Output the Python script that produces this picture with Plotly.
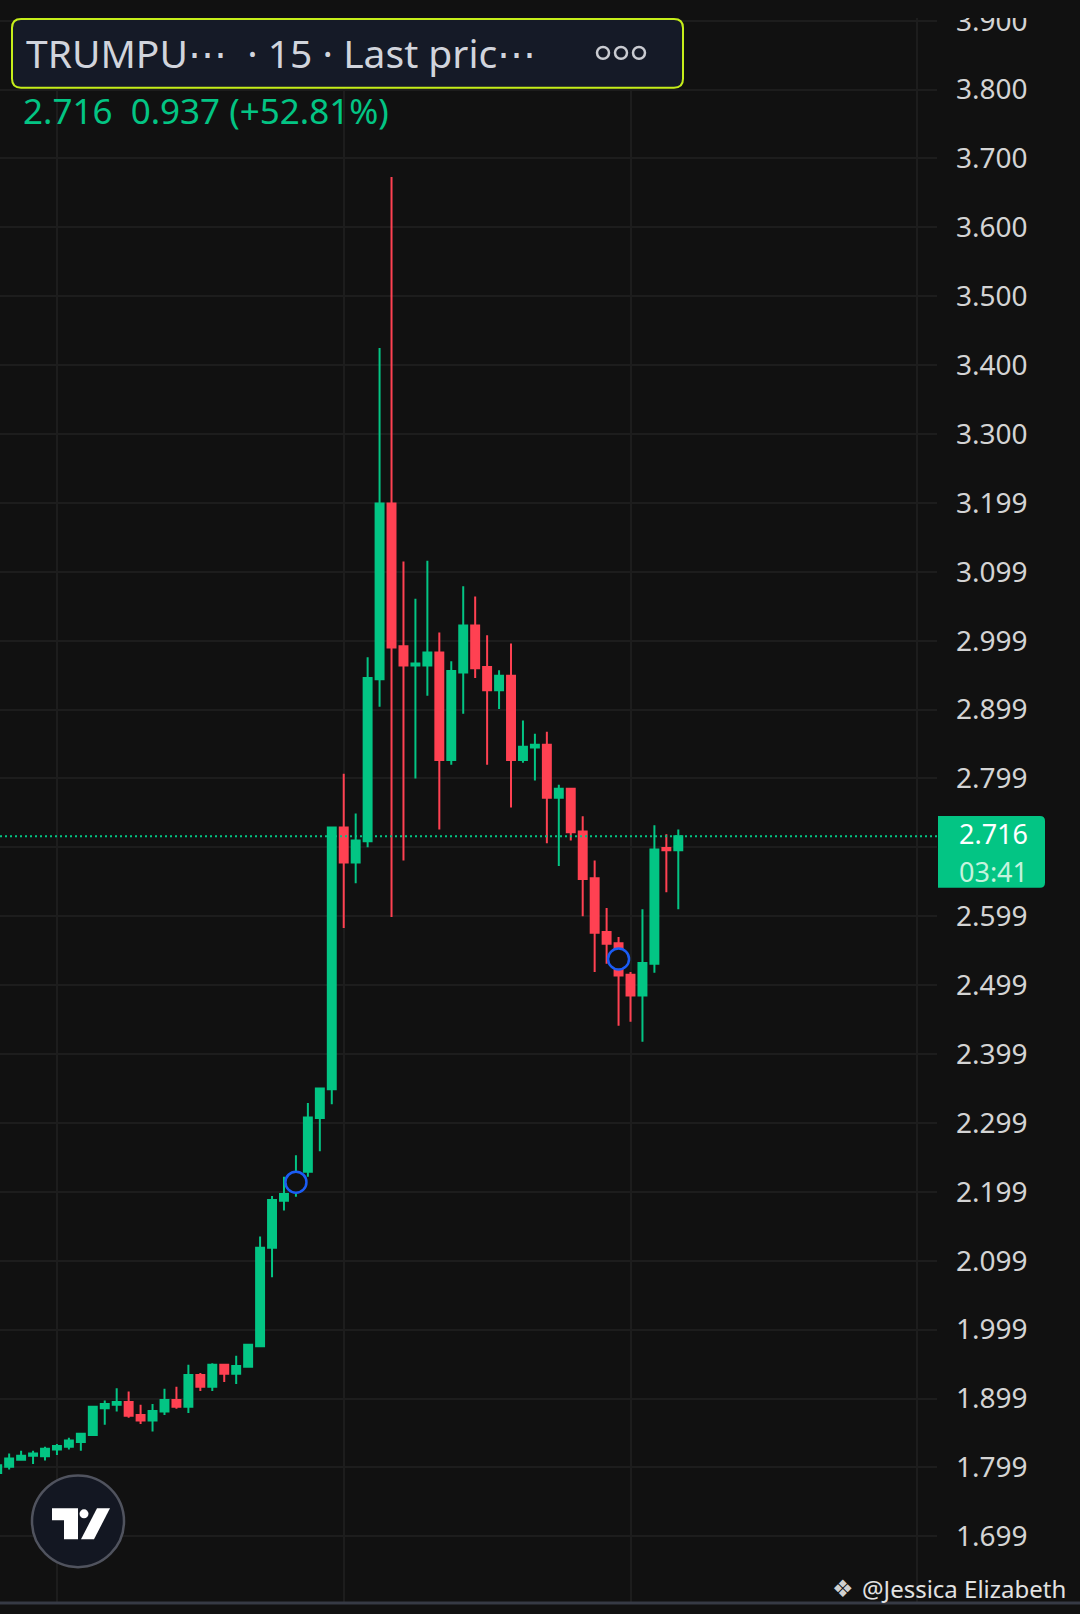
import plotly.graph_objects as go

# 15 min candles, TRUMP/USDT style chart
opens = [1.792, 1.801, 1.811, 1.817, 1.816, 1.826, 1.830, 1.837, 1.847, 1.886,
         1.891, 1.895, 1.876, 1.868, 1.881, 1.898, 1.888, 1.934, 1.917, 1.949,
         1.936, 1.946, 1.976, 2.119, 2.187, 2.200, 2.229, 2.307, 2.349, 2.729,
         2.678, 2.709, 2.944, 3.199, 2.992, 2.964, 2.964, 2.983, 2.827, 2.954,
         3.022, 2.962, 2.928, 2.949, 2.827, 2.845, 2.849, 2.772, 2.785, 2.723,
         2.655, 2.577, 2.561, 2.515, 2.485, 2.531, 2.699, 2.696]
highs = [1.807, 1.820, 1.824, 1.824, 1.830, 1.834, 1.843, 1.850, 1.889, 1.897,
         1.915, 1.910, 1.891, 1.892, 1.914, 1.917, 1.949, 1.937, 1.951, 1.950,
         1.962, 1.979, 2.135, 2.194, 2.222, 2.253, 2.329, 2.351, 2.730, 2.807,
         2.749, 2.976, 3.425, 3.673, 3.115, 3.061, 3.116, 3.012, 2.970, 3.079,
         3.064, 3.008, 2.957, 2.996, 2.884, 2.865, 2.868, 2.791, 2.786, 2.745,
         2.681, 2.612, 2.570, 2.519, 2.610, 2.732, 2.719, 2.726]
lows = [1.787, 1.797, 1.810, 1.805, 1.810, 1.818, 1.826, 1.824, 1.846, 1.862,
        1.881, 1.872, 1.863, 1.852, 1.876, 1.885, 1.879, 1.911, 1.911, 1.924,
        1.921, 1.945, 1.975, 2.076, 2.173, 2.193, 2.222, 2.259, 2.327, 2.583,
        2.648, 2.700, 2.904, 2.599, 2.681, 2.800, 2.920, 2.726, 2.820, 2.894,
        2.946, 2.820, 2.901, 2.758, 2.823, 2.797, 2.706, 2.673, 2.710, 2.600,
        2.519, 2.531, 2.441, 2.447, 2.418, 2.518, 2.635, 2.610]
closes = [1.803, 1.813, 1.817, 1.820, 1.827, 1.831, 1.839, 1.849, 1.888, 1.892,
          1.895, 1.875, 1.868, 1.882, 1.898, 1.888, 1.934, 1.917, 1.949, 1.936,
          1.947, 1.978, 2.119, 2.188, 2.197, 2.217, 2.308, 2.350, 2.729, 2.678,
          2.710, 2.946, 3.199, 2.990, 2.964, 2.967, 2.983, 2.827, 2.956, 3.022,
          2.960, 2.928, 2.949, 2.827, 2.846, 2.849, 2.772, 2.785, 2.722, 2.654,
          2.576, 2.560, 2.514, 2.485, 2.532, 2.697, 2.696, 2.716]
bars = list(range(len(opens)))

# blue circle markers sitting on two candles
mark_x = [25, 52]
mark_y = [2.214, 2.538]

price_ticks = [3.9, 3.8, 3.7, 3.6, 3.5, 3.4, 3.3, 3.2, 3.1, 3.0, 2.9, 2.8, 2.7,
               2.6, 2.5, 2.4, 2.3, 2.2, 2.1, 2.0, 1.9, 1.8, 1.7]
# the 2.7 label sits under the last price badge, so it is left blank
price_labels = ["3.900", "3.800", "3.700", "3.600", "3.500", "3.400", "3.300",
                "3.199", "3.099", "2.999", "2.899", "2.799", "", "2.599",
                "2.499", "2.399", "2.299", "2.199", "2.099", "1.999", "1.899",
                "1.799", "1.699"]
time_grid = [5, 29, 53, 77]

last_price = 2.716
header = "TRUMPU⋯  · 15 · Last pric⋯"
change_text = "2.716  0.937 (+52.81%)"
countdown = "03:41"
watermark = "@Jessica Elizabeth"

UP = "#03C584"
DOWN = "#FF4152"
BG = "#111111"
FONT = "Noto Sans"

W, H = 1080, 1614
TOP, PW, BOTTOM = 12, 937, 1602   # plot area edges in pixels
PH = BOTTOM - TOP


def px(x):
    return x / PW


def py(y):
    return 1 - (y - TOP) / PH


def rounded(x0, y0, x1, y1, r, left=True):
    # rounded rectangle path in paper coords from pixel box
    rl = r if left else 0
    return (f"M {px(x0 + rl)},{py(y0)} L {px(x1 - r)},{py(y0)} "
            f"Q {px(x1)},{py(y0)} {px(x1)},{py(y0 + r)} "
            f"L {px(x1)},{py(y1 - r)} Q {px(x1)},{py(y1)} {px(x1 - r)},{py(y1)} "
            f"L {px(x0 + rl)},{py(y1)} Q {px(x0)},{py(y1)} {px(x0)},{py(y1 - rl)} "
            f"L {px(x0)},{py(y0 + rl)} Q {px(x0)},{py(y0)} {px(x0 + rl)},{py(y0)} Z")


fig = go.Figure()
fig.add_trace(go.Candlestick(
    x=bars, open=opens, high=highs, low=lows, close=closes,
    increasing=dict(line=dict(color=UP, width=2), fillcolor=UP),
    decreasing=dict(line=dict(color=DOWN, width=2), fillcolor=DOWN),
    whiskerwidth=0, showlegend=False, hoverinfo="skip"))
fig.add_trace(go.Scatter(
    x=mark_x, y=mark_y, mode="markers", showlegend=False, hoverinfo="skip",
    marker=dict(size=21, color=BG, line=dict(color="#1B5CF5", width=2.5))))

shapes = [
    # last price dotted line
    dict(type="line", xref="paper", yref="y", x0=0, x1=1, y0=last_price, y1=last_price,
         line=dict(color=UP, width=2, dash="2px,3px")),
    # strip above the chart, clips the top price label
    dict(type="rect", xref="paper", yref="paper", x0=0, x1=W / PW, y0=py(TOP), y1=py(0),
         fillcolor=BG, line=dict(width=0)),
    # bottom border
    dict(type="line", xref="paper", yref="paper", x0=0, x1=W / PW, y0=py(1603), y1=py(1603),
         line=dict(color="#363a45", width=3)),
    # header box
    dict(type="path", xref="paper", yref="paper", path=rounded(12, 13, 683, 82, 9),
         fillcolor="#151a27", line=dict(color="#C6EE1A", width=2)),
    # last price badge
    dict(type="path", xref="paper", yref="paper", path=rounded(938, 813, 1045, 885, 5, left=False),
         fillcolor=UP, line=dict(width=0)),
    # TV logo
    dict(type="circle", xref="paper", yref="paper", x0=px(32), x1=px(124), y0=py(1475), y1=py(1567),
         fillcolor="#131722", line=dict(color="#50535e", width=2.5)),
    dict(type="path", xref="paper", yref="paper",
         path=(f"M {px(52)},{py(1508)} L {px(78)},{py(1508)} L {px(78)},{py(1539)} "
               f"L {px(64)},{py(1539)} L {px(64)},{py(1520)} L {px(52)},{py(1520)} Z"),
         fillcolor="white", line=dict(width=0)),
    dict(type="circle", xref="paper", yref="paper", x0=px(79.5), x1=px(88.5), y0=py(1509), y1=py(1518),
         fillcolor="white", line=dict(width=0)),
    dict(type="path", xref="paper", yref="paper",
         path=(f"M {px(97)},{py(1508)} L {px(110)},{py(1508)} L {px(94)},{py(1539)} "
               f"L {px(81)},{py(1539)} Z"),
         fillcolor="white", line=dict(width=0)),
]
# the three little rings of the header menu
for cx in (603, 621, 639):
    shapes.append(dict(type="circle", xref="paper", yref="paper",
                       x0=px(cx - 6), x1=px(cx + 6), y0=py(41), y1=py(53),
                       line=dict(color="#c9cbd1", width=2.5)))

annotations = [
    dict(text=header, x=px(24), y=py(47), xanchor="left", yanchor="middle",
         font=dict(family=FONT, size=39, color="#d1d4dc")),
    dict(text=change_text, x=px(21), y=py(105), xanchor="left", yanchor="middle",
         font=dict(family=FONT, size=35, color=UP)),
    dict(text=f"{last_price:.3f}", x=px(994), y=py(850), xanchor="center", yanchor="bottom",
         borderpad=0, font=dict(family=FONT, size=27, color="#ffffff")),
    dict(text=countdown, x=px(994), y=py(849), xanchor="center", yanchor="top",
         borderpad=0, font=dict(family=FONT, size=27, color="#c4f3dd")),
    dict(text="❖", x=px(843), y=py(1589), xanchor="center", yanchor="middle",
         font=dict(family="DejaVu Sans", size=24, color="#d0d0d0")),
    dict(text=watermark, x=px(860), y=py(1588), xanchor="left", yanchor="middle",
         font=dict(family=FONT, size=24, color="#e2e2e2")),
]
for a in annotations:
    a.update(xref="paper", yref="paper", showarrow=False)

fig.update_layout(
    width=W, height=H,
    margin=dict(l=0, r=W - PW, t=TOP, b=H - BOTTOM),
    paper_bgcolor=BG, plot_bgcolor=BG,
    boxgap=0.3, boxgroupgap=0.05,
    shapes=shapes, annotations=annotations,
    xaxis=dict(range=[0.234, 78.65], rangeslider=dict(visible=False),
               tickvals=time_grid, showticklabels=False, showgrid=True,
               gridcolor="#1d1d1d", gridwidth=2, zeroline=False, showline=False),
    yaxis=dict(range=[1.6046, 3.9039], side="right", tickvals=price_ticks,
               ticktext=price_labels, showgrid=True, gridcolor="#1d1d1d", gridwidth=2,
               zeroline=False, showline=False, ticks="", ticklabelstandoff=18,
               ticklabeloverflow="allow",
               tickfont=dict(family=FONT, size=28, color="#d4d4d4")),
)

fig.write_html("out.html", config={"displayModeBar": False},
               post_script="document.body.style.margin='0';document.body.style.overflow='hidden';")
